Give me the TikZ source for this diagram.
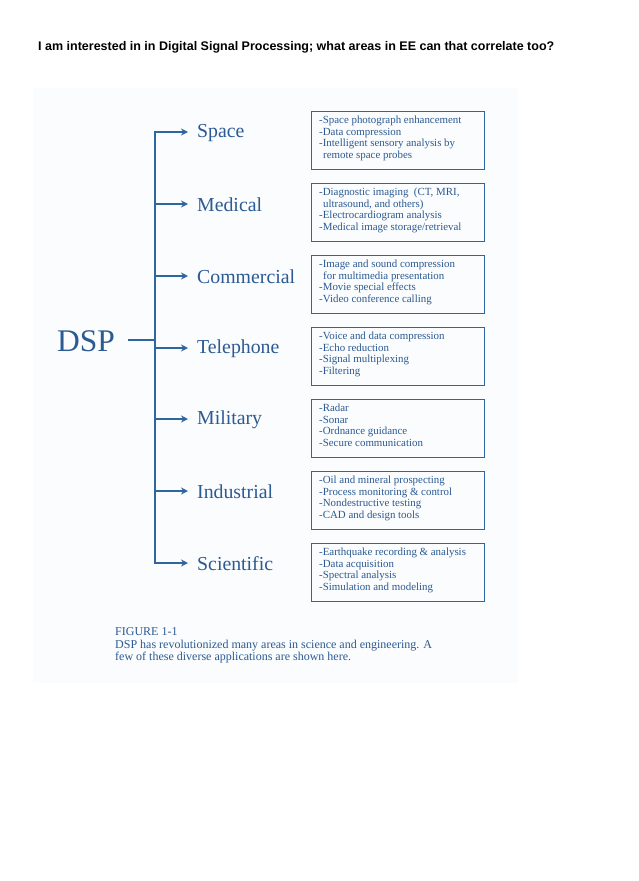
\documentclass[tikz,border=0pt]{standalone}
\usepackage{fontspec}
\setmainfont{Liberation Serif}
\newfontfamily\titlefont{Liberation Sans}
\usetikzlibrary{arrows.meta}
\definecolor{dspblue}{HTML}{2F66A0}
\definecolor{dsptext}{HTML}{2C5A92}
\definecolor{bgpale}{HTML}{FAFCFD}
\begin{document}
\begin{tikzpicture}[x=1pt,y=-1pt,
  branch/.style={draw=dspblue,line width=2pt,-{Stealth[length=7pt,width=7pt]}},
  trunk/.style={draw=dspblue,line width=2pt},
  cat/.style={anchor=west,text=dsptext,font=\fontsize{19.8}{22}\selectfont,inner sep=0pt},
  infobox/.style={draw=dspblue,line width=0.9pt,anchor=north west,minimum width=173pt,minimum height=58pt,inner sep=0pt},
  boxtext/.style={anchor=north west,align=left,text=dsptext,font=\fontsize{10.9}{11.6}\selectfont,inner sep=0pt}]
\useasboundingbox (0,0) rectangle (638,881);
\fill[white] (0,0) rectangle (638,881);
\fill[bgpale] (33,88) rectangle (518,683);
\node[anchor=west,font=\titlefont\bfseries\fontsize{12.5}{14}\selectfont,inner sep=0pt] (title) at (38,47) {I am interested in in Digital Signal Processing; what areas in EE can that correlate too?};
\node[anchor=west,text=dsptext,font=\fontsize{31.5}{33}\selectfont,inner sep=0pt] (dsp) at (57,341) {DSP};
\coordinate (top) at (155,133);
\coordinate (bot) at (155,563);
\coordinate (mid) at (155,340);
\draw[trunk] (128,340) -- (mid);
\draw[trunk] (top) -- (bot);
\foreach \n/\t/\y in {space/Space/133,medical/Medical/205,commercial/Commercial/277,telephone/Telephone/349,military/Military/420,industrial/Industrial/492,scientific/Scientific/564}{
  \node[cat] (\n) at (197,\y) {\t};
  \draw[branch] (154,\y-1) -- (188,\y-1);
}
\foreach \i/\y/\txt in {
 1/111/{-Space photograph enhancement\\-Data compression\\-Intelligent sensory analysis by\\\hspace*{4pt}remote space probes},
 2/183/{-Diagnostic imaging\ \ (CT, MRI,\\\hspace*{4pt}ultrasound, and others)\\-Electrocardiogram analysis\\-Medical image storage/retrieval},
 3/255/{-Image and sound compression\\\hspace*{4pt}for multimedia presentation\\-Movie special effects\\-Video conference calling},
 4/327/{-Voice and data compression\\-Echo reduction\\-Signal multiplexing\\-Filtering},
 5/399/{-Radar\\-Sonar\\-Ordnance guidance\\-Secure communication},
 6/471/{-Oil and mineral prospecting\\-Process monitoring \& control\\-Nondestructive testing\\-CAD and design tools},
 7/543/{-Earthquake recording \& analysis\\-Data acquisition\\-Spectral analysis\\-Simulation and modeling}}{
  \node[infobox] (b\i) at (311,\y) {};
  \node[boxtext] (t\i) at (319,\y+5) {\txt};
}
\node[anchor=north west,text=dsptext,align=left,font=\fontsize{12}{12.9}\selectfont,inner sep=0pt] (cap) at (115,627) {FIGURE 1-1\\DSP has revolutionized many areas in science and engineering. A\\few of these diverse applications are shown here.};
\end{tikzpicture}
\end{document}
